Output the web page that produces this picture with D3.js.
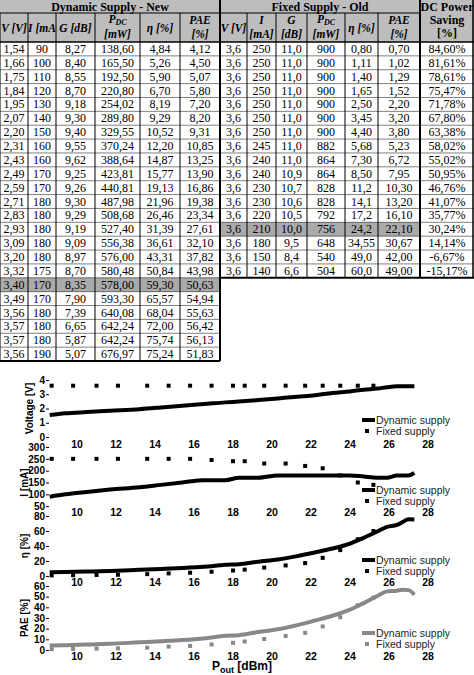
<!DOCTYPE html><html><head><meta charset="utf-8"><script src="https://cdn.jsdelivr.net/npm/d3@7"></script>
<style>body{margin:0;background:#fff}svg{display:block}</style></head><body><svg id="c" width="474" height="675"></svg>
<script>
const dynV=["1,54","1,66","1,75","1,84","1,95","2,07","2,20","2,31","2,43","2,49","2,59","2,71","2,83","2,93","3,09","3,20","3,32","3,40","3,49","3,56","3,57","3,57","3,56"];
const dynI=[90,100,110,120,130,140,150,160,160,170,170,180,180,180,180,180,175,170,170,180,180,180,190];
const dynG=["8,27","8,40","8,55","8,70","9,18","9,30","9,40","9,55","9,62","9,25","9,26","9,30","9,29","9,19","9,09","8,97","8,70","8,35","7,90","7,39","6,65","5,87","5,07"];
const dynP=["138,60","165,50","192,50","220,80","254,02","289,80","329,55","370,24","388,64","423,81","440,81","487,98","508,68","527,40","556,38","576,00","580,48","578,00","593,30","640,08","642,24","642,24","676,97"];
const dynEta=["4,84","5,26","5,90","6,70","8,19","9,29","10,52","12,20","14,87","15,77","19,13","21,96","26,46","31,39","36,61","43,31","50,84","59,30","65,57","68,04","72,00","75,74","75,24"];
const dynPAE=["4,12","4,50","5,07","5,80","7,20","8,20","9,31","10,85","13,25","13,90","16,86","19,38","23,34","27,61","32,10","37,82","43,98","50,63","54,94","55,63","56,42","56,13","51,83"];
const fixI=[250,250,250,250,250,250,250,245,240,240,230,230,220,210,180,150,140];
const fixG=["11,0","11,0","11,0","11,0","11,0","11,0","11,0","11,0","11,0","10,9","10,7","10,6","10,5","10,0","9,5","8,4","6,6"];
const fixP=[900,900,900,900,900,900,900,882,864,864,828,828,792,756,648,540,504];
const fixEta=["0,80","1,11","1,40","1,65","2,50","3,45","4,40","5,68","7,30","8,50","11,2","14,1","17,2","24,2","34,55","49,0","60,0"];
const fixPAE=["0,70","1,02","1,29","1,52","2,20","3,20","3,80","5,23","6,72","7,95","10,30","13,20","16,10","22,10","30,67","42,00","49,00"];
const saving=["84,60%","81,61%","78,61%","75,47%","71,78%","67,80%","63,38%","58,02%","55,02%","50,95%","46,76%","41,07%","35,77%","30,24%","14,14%","-6,67%","-15,17%"];
const dynPout=[8.6,9.4,10.5,11.7,13.2,14.3,15.4,16.5,17.6,18.3,19.3,20.3,21.3,22.2,23.1,24.0,24.7,25.4,25.9,26.4,26.7,27.0,27.3];
const fixPout=[8.7,9.8,11.0,12.1,13.6,14.7,15.8,16.9,18.0,18.6,19.6,20.7,21.7,22.6,23.5,24.4,25.2];
const xTicks=[10,12,14,16,18,20,22,24,26,28];
const num=s=>+String(s).replace(",",".");

const svg=d3.select("#c");
const T=svg.append("g").attr("font-family","Liberation Serif").attr("font-size",12);
const colL=[0,28,56,95,140,180,220], colR=[220,247,276,307,345,378,420,474];
const h1=13,h2=42,rh=13.87;
const yRow=d3.scaleLinear().domain([0,1]).range([h2,h2+rh]);
T.append("rect").attr("x",0).attr("y",0).attr("width",474).attr("height",h2).attr("fill","#bdbdbd");
T.append("rect").attr("x",0).attr("y",yRow(17)).attr("width",220).attr("height",rh).attr("fill","#aaa");
T.append("rect").attr("x",220).attr("y",yRow(13)).attr("width",200).attr("height",rh).attr("fill","#aaa");
const line=(x1,y1,x2,y2,w)=>T.append("line").attr("x1",x1).attr("y1",y1).attr("x2",x2).attr("y2",y2).attr("stroke","#000").attr("stroke-width",w||1);
function cols(cx,rows,ys){cx.forEach(x=>line(x,ys,x,yRow(rows),x==220||x==420?2:1));}
cols(colL,23,h1);cols(colR.slice(0,7),17,h1);line(420,0,420,yRow(17),2);line(473,0,473,yRow(17),1.5);line(220,0,220,h1,2);
line(0,h1,420,h1);line(0,h2,474,h2,1.5);line(0,yRow(23),220,yRow(23),2);line(220,yRow(17),474,yRow(17),2);
for(let i=1;i<23;i++)line(0,yRow(i),220,yRow(i),0.5);
for(let i=1;i<17;i++)line(220,yRow(i),474,yRow(i),0.5);
const txt=(x,y,s,o)=>{const t=T.append("text").attr("x",x).attr("y",y).attr("text-anchor","middle").text(s);if(o)for(const k in o)t.attr(k,o[k]);return t;};
txt(110,11,"Dynamic Supply - New",{"font-weight":"bold"});
txt(320,11,"Fixed Supply - Old",{"font-weight":"bold"});
txt(447,11,"DC Power",{"font-weight":"bold"});txt(447,24,"Saving",{"font-weight":"bold"});txt(447,37,"[%]",{"font-weight":"bold"});
const hb={"font-weight":"bold","font-style":"italic","font-size":11.5};
const hdrL=[["V [V]"],["I [mA"],["G [dB]"],["P_DC","[mW]"],["η [%]"],["PAE","[%]"]];
const hdrR=[["V [V]"],["I","[mA]"],["G","[dB]"],["P_DC","[mW]"],["η [%]"],["PAE","[%]"]];
function hdr(cx,h){h.forEach((l,i)=>{const c=(cx[i]+cx[i+1])/2;l.forEach((s,j)=>{const y=l.length==1?32:24+j*14;
 if(s=="P_DC"){const t=txt(c,y-1,"",hb);t.append("tspan").text("P");t.append("tspan").attr("font-size",8).attr("dy",2).text("DC");}
 else txt(c,y,s,hb);});});}
hdr(colL,hdrL);hdr(colR,hdrR);
const dynCols=[dynV,dynI,dynG,dynP,dynEta,dynPAE];
dynCols.forEach((arr,c)=>arr.forEach((v,i)=>txt((colL[c]+colL[c+1])/2,yRow(i)+11,v)));
const fixCols=[fixI.map(()=>"3,6"),fixI,fixG,fixP,fixEta,fixPAE,saving];
fixCols.forEach((arr,c)=>arr.forEach((v,i)=>txt((colR[c]+colR[c+1])/2,yRow(i)+11,v)));

const x=d3.scaleLinear().domain([10,28]).range([77,428]);
const C=svg.append("g").attr("font-family","Liberation Sans");
const panels=[
 {dom:[0,4],rng:[437,380],ticks:[0,1,2,3,4],lab:"Voltage  [V]",dy:dynV.map(num),fy:fixI.map(()=>3.6),tl:444,col:"#000",ly:420},
 {dom:[0,300],rng:[518,447],ticks:[50,100,150,200,250,300],lab:"I  [mA]",dy:dynI,fy:fixI,tl:512,col:"#000",ly:490},
 {dom:[0,80],rng:[576,516],ticks:[0,20,40,60,80],lab:"η  [%]",dy:dynEta.map(num),fy:fixEta.map(num),tl:582,col:"#000",ly:560},
 {dom:[0,60],rng:[650,586],ticks:[0,10,20,30,40,50,60],lab:"PAE  [%]",dy:dynPAE.map(num),fy:fixPAE.map(num),tl:656,col:"#888",ly:633}];
panels.forEach(p=>{
 const y=d3.scaleLinear().domain(p.dom).range(p.rng);
 const g=C.append("g");
 g.append("g").attr("transform","translate(49,0)").call(d3.axisLeft(y).tickValues(p.ticks).tickFormat(d3.format("d")).tickSize(3).tickPadding(1))
  .call(a=>{a.select(".domain").remove();a.selectAll("text").attr("font-size",10).attr("font-weight","bold").attr("font-family","Liberation Sans");});
 xTicks.forEach(t=>g.append("text").attr("x",x(t)).attr("y",p.tl+4).attr("text-anchor","middle").attr("font-size",10.5).attr("font-weight","bold").text(t));
 g.append("text").attr("transform",`translate(${p.lab.length>8?33:28},${(p.rng[0]+p.rng[1])/2}) rotate(-90)`).attr("text-anchor","middle").attr("font-size",10).attr("font-weight","bold").text(p.lab);
 g.append("path").datum(p.dy.map((v,i)=>[dynPout[i],v])).attr("d",d3.line().x(d=>x(d[0])).y(d=>y(d[1])).curve(d3.curveMonotoneX))
  .attr("fill","none").attr("stroke",p.col).attr("stroke-width",4);
 g.selectAll(null).data(p.fy).join("rect").attr("x",(d,i)=>x(fixPout[i])-2).attr("y",d=>y(d)-2).attr("width",4).attr("height",4).attr("fill",p.col);
 g.append("line").attr("x1",362).attr("x2",375).attr("y1",p.ly).attr("y2",p.ly).attr("stroke",p.col).attr("stroke-width",4);
 g.append("text").attr("x",376).attr("y",p.ly+4).attr("font-size",10.5).attr("fill","#222").text("Dynamic supply");
 g.append("rect").attr("x",365).attr("y",p.ly+9).attr("width",4).attr("height",4).attr("fill",p.col);
 g.append("text").attr("x",376).attr("y",p.ly+15).attr("font-size",10.5).attr("fill","#222").text("Fixed supply");
});
const xl=C.append("text").attr("x",212).attr("y",670).attr("font-size",12).attr("font-weight","bold");
xl.append("tspan").text("P");xl.append("tspan").attr("font-size",9).attr("dy",3).text("out");xl.append("tspan").attr("dy",-3).text("  [dBm]");
</script></body></html>
